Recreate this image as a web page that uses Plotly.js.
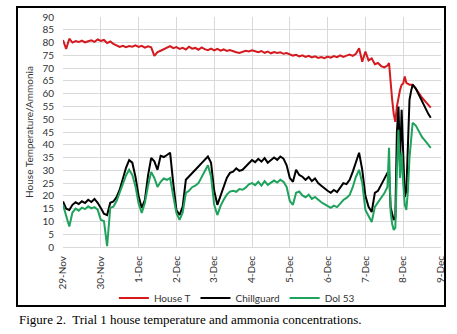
<!DOCTYPE html>
<html>
<head>
<meta charset="utf-8">
<script src="https://cdn.plot.ly/plotly-3.0.1.min.js"></script>
<style>
html,body{margin:0;padding:0;background:#fff;}
#chart{width:457px;height:334px;}
</style>
</head>
<body>
<div id="chart"></div>
<script>
// Hours since 29-Nov 00:00
const sensorHours = [0,2,4,6,8,10,12,14,16,18,20,22,24,26,28,30,32,34,36,38,40,42,44,46,48,50,52,54,56,58,60,62,64,66,68,70,72,74,76,78,80,82,84,86,88,90,92,94,96,98,100,102,104,106,108,110,112,114,116,118,120,122,124,126,128,130,132,134,136,138,140,142,144,146,148,150,152,154,156,158,160,162,164,166,168,170,172,174,176,178,180,182,184,186,188,190,192,194,196,198,200,202,204,206,207,208,209,210,211,212,213,214,215,216,217,218,219,220,221,222,224,226,228,230,232,233.5];

const chillguard = [17.8,15.0,14.5,16.5,17.5,16.8,17.9,17.2,18.5,17.6,18.8,17.3,15.3,13.0,12.5,17.3,17.8,19.5,22.4,27.0,31.0,34.0,33.0,27.5,20.0,15.3,18.4,28.0,34.9,33.5,30.2,35.7,35.2,36.0,36.9,25.0,14.5,12.5,15.8,26.3,27.5,29.0,30.2,31.5,32.8,34.0,35.4,33.0,22.0,16.5,20.0,23.5,27.0,29.0,29.5,30.8,29.8,30.2,31.5,32.6,34.0,33.2,34.5,33.4,34.8,33.0,34.2,35.0,34.1,35.4,34.6,32.0,27.0,25.5,30.2,28.2,27.5,26.3,27.4,25.8,26.8,25.0,24.0,22.8,22.0,21.2,22.3,21.5,23.5,25.0,24.6,26.3,29.5,33.5,36.9,30.2,20.0,15.7,13.7,21.2,22.0,24.3,26.5,29.0,29.5,15.7,13.0,10.6,11.5,45.0,55.0,33.0,53.7,35.0,19.6,22.0,40.0,57.6,61.0,63.5,62.0,59.5,56.5,54.5,52.0,50.6];

const dol53 = [16.5,12.0,8.0,13.5,15.0,14.2,15.4,14.8,15.9,15.1,15.6,14.6,10.6,10.2,0.3,15.3,15.8,18.0,21.2,24.5,28.0,30.2,28.2,23.8,17.0,13.3,17.3,24.0,29.4,27.0,23.5,25.5,26.8,26.3,27.0,20.0,13.3,10.6,13.5,21.2,22.0,23.4,24.0,25.0,27.5,29.5,32.0,27.6,16.5,12.5,16.0,18.5,20.5,21.7,22.0,21.6,22.7,22.4,23.2,24.5,25.0,24.2,25.5,24.0,25.8,24.3,25.0,26.0,25.2,26.3,25.5,23.5,18.0,16.5,21.2,21.7,20.2,19.5,20.5,18.8,19.6,18.4,17.5,16.8,16.0,15.3,16.2,15.6,17.0,18.4,19.2,20.4,23.5,27.5,30.2,25.0,14.5,11.8,9.8,15.7,17.5,19.2,21.0,23.5,38.8,13.7,9.0,6.7,7.5,30.0,45.9,27.0,37.0,25.0,16.5,14.5,22.0,35.0,42.0,48.6,47.5,45.0,43.0,41.5,40.0,38.8];

const houseHours = [0,2,4,6,8,10,12,14,16,18,20,22,24,26,28,30,32,34,36,38,40,42,44,46,48,50,52,54,56,58,60,62,64,66,68,70,72,74,76,78,80,82,84,86,88,90,92,94,96,98,100,102,104,106,108,110,112,114,116,118,120,122,124,126,128,130,132,134,136,138,140,142,144,146,148,150,152,154,156,158,160,162,164,166,168,170,172,174,176,178,180,182,184,186,188,190,192,194,196,198,200,202,204,206,207,208,209,210,211,212,213,214,215,216,217,218,220,222,224,226,228,230,232,233.5];

const houseT = [81.0,77.5,81.5,80.0,80.6,80.2,80.8,80.1,80.5,80.9,80.3,81.2,80.6,81.0,79.8,80.4,79.5,78.8,78.3,78.7,78.2,78.6,78.4,78.9,78.3,78.7,78.0,78.5,78.1,74.8,76.3,76.8,77.4,78.0,78.6,77.8,78.2,77.5,77.9,77.3,78.4,77.6,77.9,77.2,78.1,77.4,77.0,77.6,76.9,77.5,76.8,77.3,76.7,77.1,76.5,76.2,75.9,76.4,76.8,76.5,77.0,76.6,76.2,76.7,76.0,76.5,75.8,76.3,75.9,76.2,75.6,75.9,75.3,74.9,75.2,74.6,75.0,74.4,74.8,74.2,74.6,74.0,74.3,73.9,74.5,74.1,74.7,74.3,75.0,74.4,74.9,75.3,74.8,75.6,77.8,72.5,76.5,73.0,73.8,71.5,72.0,70.8,70.3,71.0,72.0,64.0,57.6,52.0,49.0,55.0,58.8,61.5,63.5,64.0,66.7,64.2,63.5,63.5,62.0,60.0,58.4,57.0,55.5,54.5];

const seriesNames = ['House T', 'Chillguard', 'Dol 53'];
const dayTicks = ['2019-11-29','2019-11-30','2019-12-01','2019-12-02','2019-12-03','2019-12-04','2019-12-05','2019-12-06','2019-12-07','2019-12-08','2019-12-09'];
const startMs = Date.UTC(2019, 10, 29);

function pad(n){ return (n < 10 ? '0' : '') + n; }
function toDate(h){
  const d = new Date(startMs + h * 3600000);
  return d.getUTCFullYear() + '-' + pad(d.getUTCMonth()+1) + '-' + pad(d.getUTCDate()) + ' ' +
         pad(d.getUTCHours()) + ':' + pad(d.getUTCMinutes());
}

const traces = [
  {x: houseHours.map(toDate), y: houseT, name: seriesNames[0], type: 'scatter', mode: 'lines',
   line: {color: '#d41a1f', width: 2}},
  {x: sensorHours.map(toDate), y: chillguard, name: seriesNames[1], type: 'scatter', mode: 'lines',
   line: {color: '#000000', width: 2}},
  {x: sensorHours.map(toDate), y: dol53, name: seriesNames[2], type: 'scatter', mode: 'lines',
   line: {color: '#1fa35c', width: 2}}
];

const layout = {
  width: 457, height: 334,
  margin: {l: 63, r: 16, t: 17, b: 87},
  paper_bgcolor: '#ffffff', plot_bgcolor: '#ffffff',
  font: {family: 'Lato, "Open Sans", sans-serif', size: 10, color: '#333333'},
  showlegend: true,
  legend: {orientation: 'h', x: 0.46, xanchor: 'center', y: -0.222, yanchor: 'middle',
           font: {size: 10, color: '#333333'}, bgcolor: 'rgba(0,0,0,0)', itemwidth: 30},
  xaxis: {
    type: 'date', range: [dayTicks[0], dayTicks[dayTicks.length-1]],
    tickmode: 'array', tickvals: dayTicks, tickformat: '%-d-%b', tickangle: -90,
    showgrid: true, gridcolor: '#d9d9d9', gridwidth: 1, zeroline: false,
    showline: true, linecolor: '#d9d9d9', ticks: '', ticklabelstandoff: 4,
    tickfont: {size: 10, color: '#333333'}
  },
  yaxis: {
    range: [0, 90], dtick: 5, tick0: 0,
    showgrid: true, gridcolor: '#d9d9d9', gridwidth: 1, zeroline: false,
    showline: false, ticks: '', ticklabelstandoff: 8,
    tickfont: {size: 10, color: '#333333'},
    title: {text: 'House Temperature/Ammonia', font: {size: 10, color: '#333333'}, standoff: 6}
  },
  shapes: [
    {type: 'rect', xref: 'paper', yref: 'paper', x0: -0.1217, x1: 1.0106, y0: -0.2565, y1: 1.0435,
     line: {color: '#000000', width: 2}, fillcolor: 'rgba(0,0,0,0)', layer: 'above'}
  ],
  annotations: [
    {text: 'Figure 2.  Trial 1 house temperature and ammonia concentrations.', xref: 'paper', yref: 'paper',
     x: -0.1217, y: -0.317, xanchor: 'left', yanchor: 'middle', showarrow: false,
     font: {family: '"Liberation Serif", "Times New Roman", serif', size: 13, color: '#000000'}}
  ]
};

Plotly.newPlot('chart', traces, layout, {displayModeBar: false, staticPlot: true});
</script>
</body>
</html>
